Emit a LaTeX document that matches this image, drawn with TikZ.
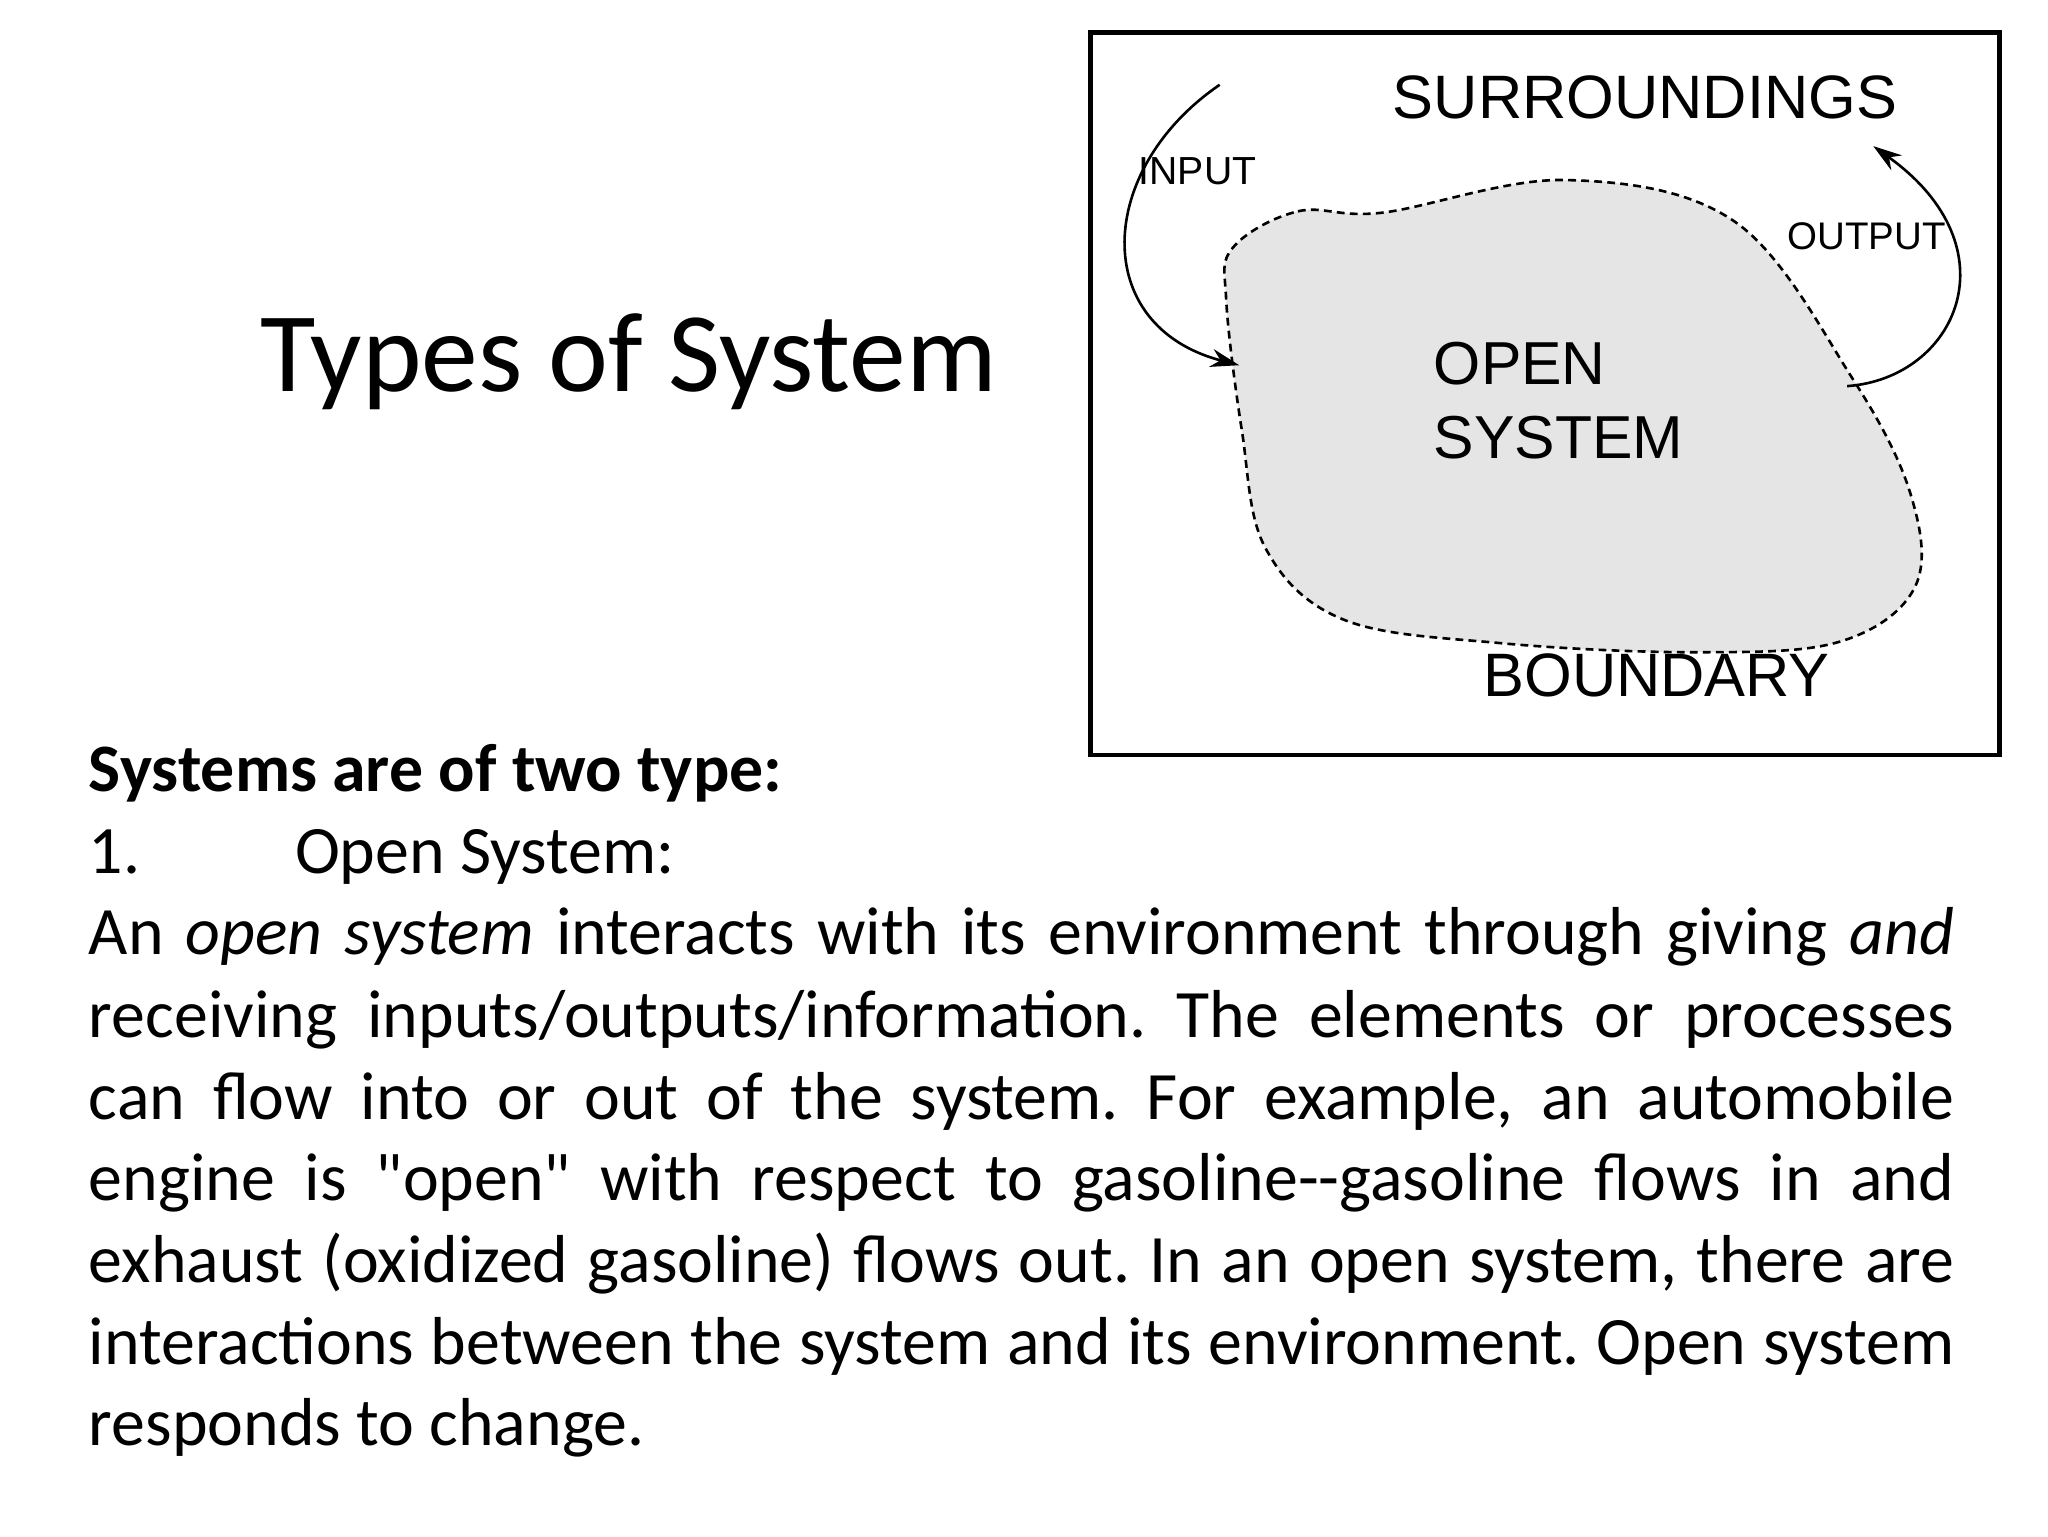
\documentclass[tikz,border=0pt]{standalone}
\usepackage{fontspec}
\setmainfont{Carlito}
\newfontfamily\arialf{Liberation Sans}
\usetikzlibrary{arrows.meta}
\begin{document}
\frenchspacing
\begin{tikzpicture}[x=1pt,y=-1pt,
  body/.style={anchor=base west,inner sep=0pt,font=\fontsize{52}{60}\selectfont},
  dlab/.style={inner sep=0pt,font=\arialf\fontsize{#1}{#1}\selectfont},
  flow/.style={line width=2pt,-{Stealth[length=22pt,width=14pt]}}]
\useasboundingbox (0,0) rectangle (1570,1177.5);
\fill[white] (0,0) rectangle (1570,1177.5);
\node[draw,line width=3.5pt,minimum width=697pt,minimum height=554pt,anchor=north west] (box) at (834,23) {};
\draw[line width=2pt,dash pattern=on 6pt off 4pt,fill=gray!20] plot[smooth cycle,tension=0.6] coordinates {(945,190) (995,162) (1060,163) (1200,138) (1330,170) (1420,290) (1465,380) (1468,450) (1410,492) (1300,500) (1150,493) (1030,475) (970,420) (952,330) (940,230)};
\node[dlab=47] (sur) at (1261,75) {SURROUNDINGS};
\node[dlab=30] (inp) at (918,131) {INPUT};
\node[dlab=29.5] (out) at (1431,181) {OUTPUT};
\node[dlab=46.5,align=left,anchor=north west] (os) at (1099,262) {OPEN\\[10pt]SYSTEM};
\node[dlab=47] (bd) at (1270,518) {BOUNDARY};
\coordinate (ins) at (935,65);
\coordinate (ine) at (950,280);
\coordinate (outs) at (1416,296);
\coordinate (oute) at (1436,112);
\draw[flow] (ins) .. controls (840,130) and (835,250) .. (ine);
\draw[flow] (outs) .. controls (1500,290) and (1545,190) .. (oute);
\node[anchor=base,inner sep=0pt,font=\fontsize{87}{90}\selectfont] (title) at (482,300) {Types of System};
\node[body] (l0) at (68,607) {\textbf{Systems are of two type:}};
\node[body] (l1a) at (68,670) {1.};
\node[body] (l1b) at (226,670) {Open System:};
\node[body] (l2) at (68,732) {\makebox[1430pt][s]{An \textit{open system} interacts with its environment through giving \textit{and}}};
\node[body] (l3) at (68,795) {\makebox[1430pt][s]{receiving inputs/outputs/information. The elements or processes}};
\node[body] (l4) at (68,858) {\makebox[1430pt][s]{can flow into or out of the system. For example, an automobile}};
\node[body] (l5) at (68,920) {\makebox[1430pt][s]{engine is \textquotedbl open\textquotedbl{} with respect to gasoline-{}-gasoline flows in and}};
\node[body] (l6) at (68,983) {\makebox[1430pt][s]{exhaust (oxidized gasoline) flows out. In an open system, there are}};
\node[body] (l7) at (68,1046) {\makebox[1430pt][s]{interactions between the system and its environment. Open system}};
\node[body] (l8) at (68,1108) {responds to change.};
\end{tikzpicture}
\end{document}
